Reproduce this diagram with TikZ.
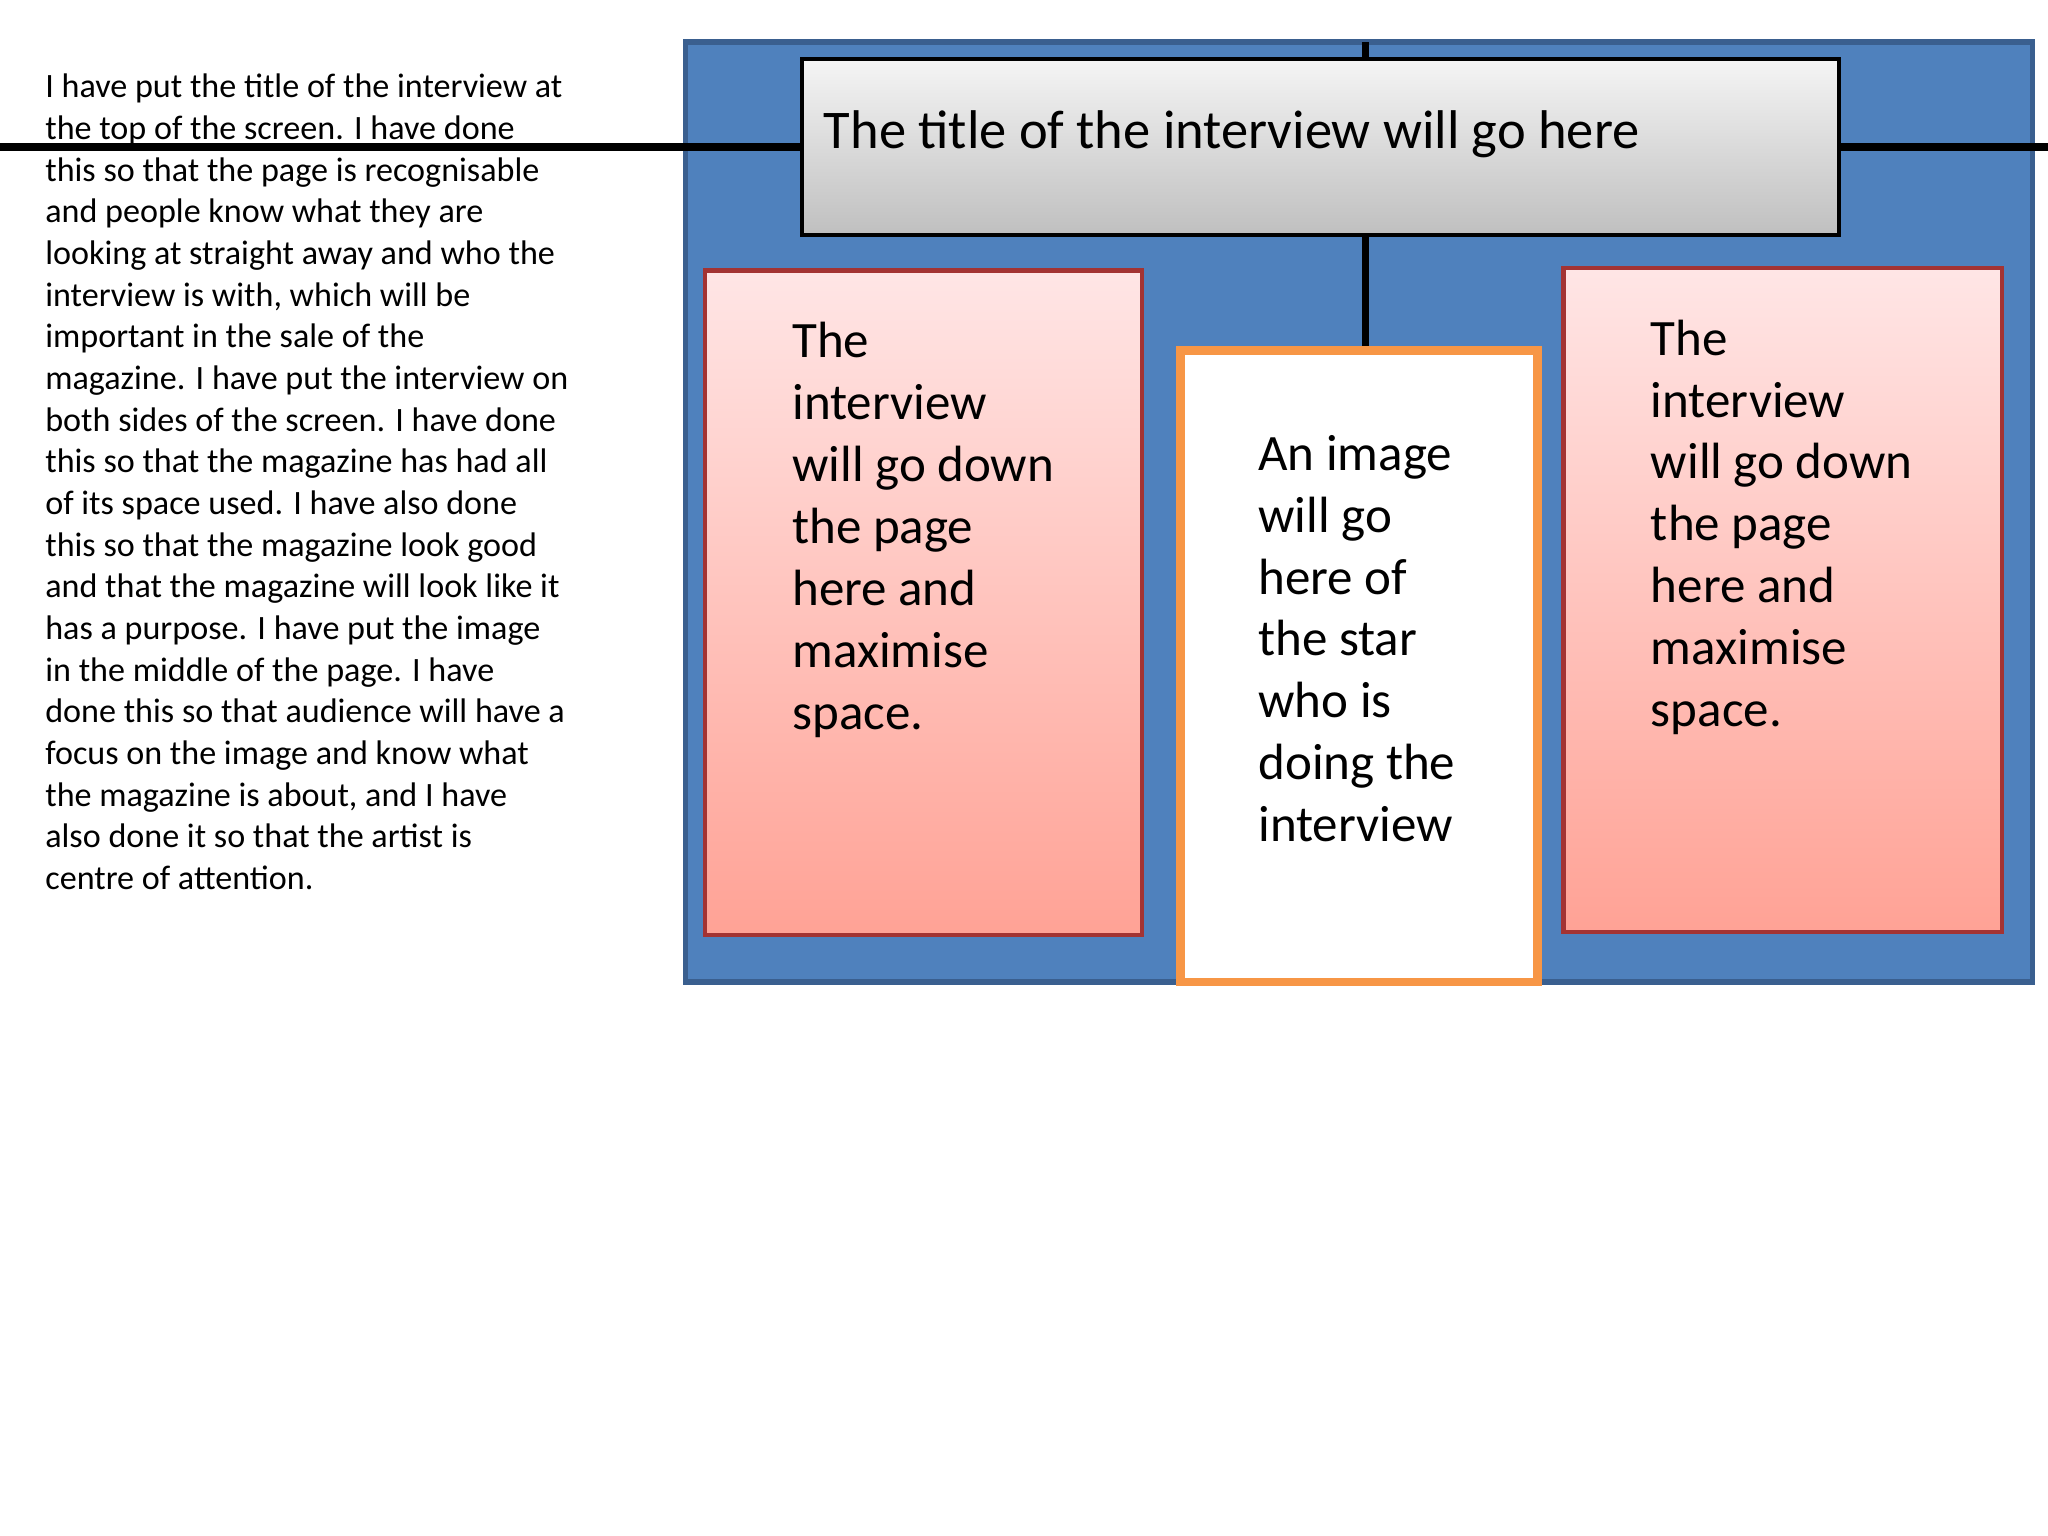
\documentclass[tikz,border=0pt]{standalone}
\usepackage{fontspec}
\setmainfont{Carlito}
\begin{document}
\begin{tikzpicture}[x=0.013128cm,y=-0.013128cm,
  pinkbox/.style={draw=red!55!black!80,line width=1.2pt,top color=red!10,bottom color=red!35!white!90!orange},
  bodytext/.style={anchor=north west,align=left,font=\fontsize{14.5}{17.6}\selectfont,inner sep=0pt}]
  \useasboundingbox (0,0) rectangle (1560,1170);
  % blue page
  \draw [fill={rgb,255:red,79;green,129;blue,189},draw={rgb,255:red,58;green,95;blue,143},line width=1.5pt] (522,32) rectangle (1548,748);
  % spine behind the boxes
  \coordinate (top) at (1040,32);
  \coordinate (imgtop) at (1040,267);
  \draw [line width=2pt] (top) -- (imgtop);
  % title box
  \node (title) [draw,line width=1.2pt,top color=gray!8,bottom color=gray!50,minimum width=790\pgflinewidth,inner sep=0pt] at (1006,112) {};
  \draw [line width=1.2pt,top color=gray!8,bottom color=gray!50] (611,45) rectangle (1401,179);
  \node (titletext) [anchor=west,font=\fontsize{15.5}{18}\selectfont,inner sep=0pt] at (627,102) {The title of the interview will go here};
  % text columns
  \draw [pinkbox] (537,206) rectangle (870,712);
  \node (lefttext) [bodytext] at (603,245) {The\\interview\\will go down\\the page\\here and\\maximise\\space.};
  \draw [pinkbox] (1191,204) rectangle (1525,710);
  \node (righttext) [bodytext] at (1257,243) {The\\interview\\will go down\\the page\\here and\\maximise\\space.};
  % image box
  \draw [fill=white,draw={rgb,255:red,247;green,150;blue,70},line width=2.5pt] (899,267) rectangle (1171,748);
  \node (imgtext) [bodytext] at (958,331) {An image\\will go\\here of\\the star\\who is\\doing the\\interview};
  % notes
  \node (notes) [anchor=north west,align=left,inner sep=0pt,font=\fontsize{9.7}{11.85}\selectfont] at (34,56) {I have put the title of the interview at\\the top of the screen. I have done\\this so that the page is recognisable\\and people know what they are\\looking at straight away and who the\\interview is with, which will be\\important in the sale of the\\magazine. I have put the interview on\\both sides of the screen. I have done\\this so that the magazine has had all\\of its space used. I have also done\\this so that the magazine look good\\and that the magazine will look like it\\has a purpose. I have put the image\\in the middle of the page. I have\\done this so that audience will have a\\focus on the image and know what\\the magazine is about, and I have\\also done it so that the artist is\\centre of attention.};
\end{tikzpicture}
\end{document}
